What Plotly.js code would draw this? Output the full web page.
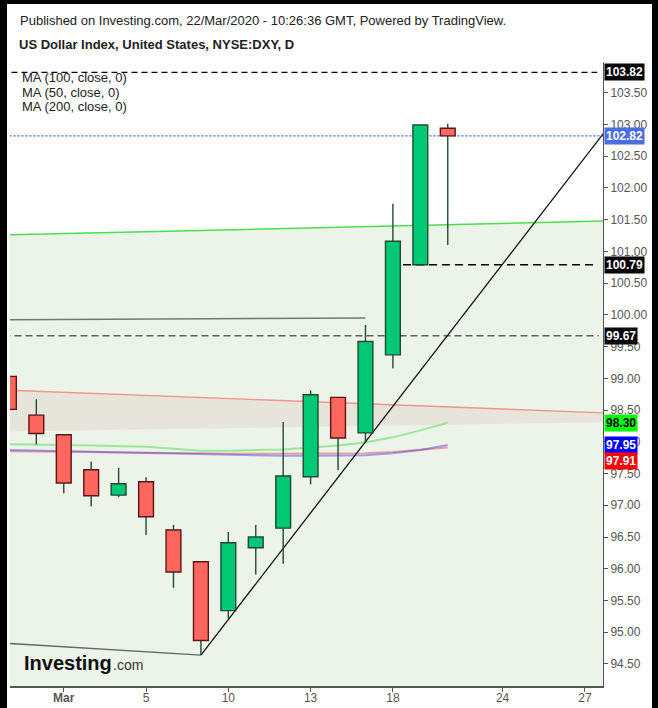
<!DOCTYPE html>
<html>
<head>
<meta charset="utf-8">
<script src="https://cdn.plot.ly/plotly-3.0.1.min.js"></script>
<style>
  html, body { margin: 0; padding: 0; background: #000; width: 658px; height: 708px; overflow: hidden; }
  #chart { position: absolute; left: 7px; top: 4px; width: 645px; height: 704px; background: #fff; }
</style>
</head>
<body>
<div id="chart"></div>
<script>
// ---------- data ----------
const dates = ["Feb 27","Feb 28","Mar 2","Mar 3","Mar 4","Mar 5","Mar 6","Mar 9","Mar 10","Mar 11","Mar 12","Mar 13","Mar 16","Mar 17","Mar 18","Mar 19","Mar 20"];
const openP  = [99.03, 98.42, 98.11, 97.56, 97.16, 97.37, 96.61, 96.11, 95.34, 96.33, 96.64, 97.45, 98.70, 98.14, 99.37, 100.79, 102.94];
const highP  = [99.10, 98.67, 98.11, 97.69, 97.59, 97.44, 96.69, 96.11, 96.58, 96.69, 98.31, 98.81, 98.70, 99.84, 101.75, 102.99, 103.01];
const lowP   = [98.45, 97.96, 97.19, 96.98, 97.13, 96.53, 95.70, 94.64, 95.22, 95.91, 96.08, 97.33, 97.55, 97.99, 99.16, 100.79, 101.10];
const closeP = [98.51, 98.13, 97.35, 97.15, 97.34, 96.82, 95.95, 94.87, 96.41, 96.50, 97.46, 98.74, 98.06, 99.58, 101.16, 102.99, 102.82];

const ma50  = [97.96, 97.96, 97.95, 97.94, 97.93, 97.92, 97.89, 97.86, 97.86, 97.87, 97.88, 97.91, 97.94, 97.99, 98.07, 98.18, 98.30];
const ma100 = [97.87, 97.86, 97.85, 97.84, 97.83, 97.82, 97.81, 97.80, 97.79, 97.78, 97.78, 97.78, 97.78, 97.79, 97.82, 97.87, 97.95];
const ma200 = [97.85, 97.85, 97.84, 97.84, 97.83, 97.83, 97.82, 97.82, 97.81, 97.81, 97.81, 97.81, 97.81, 97.82, 97.84, 97.87, 97.91];

// x tick labels (index of trading day / future day)
const tickIdx  = [2, 5, 8, 11, 14, 18, 21];
const tickText = ["<b>Mar</b>", "5", "10", "13", "18", "24", "27"];

// drawn objects (in data units: trading-day index, price)
const channelTopX = [-1, 22],  channelTopY = [101.25, 101.48];
const bandTopX    = [-1, 22],  bandTopY    = [98.83, 98.45];
const bandLowX    = [-1, 22],  bandLowY    = [98.155, 98.31];
const grayUpX     = [-1, 13],  grayUpY     = [99.92, 99.95];
const grayLowX    = [-1, 7],   grayLowY    = [94.85, 94.64];
const trendX      = [7, 22],   trendY      = [94.64, 103.04];

const levelVals  = [103.82, 102.82, 100.79, 99.67];
const levelStart = [-1, -1, 14.37, -1];
const levelEnd   = [21.45, 22, 21.45, 21.5];

const priceTags = [103.82, 102.82, 100.79, 99.67, 98.30, 97.95, 97.91];
const maNames = ["MA (100, close, 0)", "MA (50, close, 0)", "MA (200, close, 0)"];

// ---------- styles ----------
const xRange = [0.04, 21.66];
const yRange = [94.153, 103.983];
const FONT = "Liberation Sans, Arial, sans-serif";
const upFill = "#00C875", upLine = "#1F4B32";
const dnFill = "#FF665E", dnLine = "#5E1414";
const wickColor = "#1F4B32";

const idx = dates.map((d, i) => i);

// ---------- traces (main axes: background objects) ----------
const traces = [];
traces.push({x: channelTopX, y: channelTopY, mode: "lines", fill: "tozeroy",
  fillcolor: "#ECF3E9", line: {color: "#4BE04B", width: 1.5}});
traces.push({x: bandLowX, y: bandLowY, mode: "lines", line: {color: "rgba(0,0,0,0)", width: 0}});
traces.push({x: bandTopX, y: bandTopY, mode: "lines", fill: "tonexty",
  fillcolor: "#E7E5DB", line: {color: "#F0958C", width: 1.4}});
traces.push({x: grayUpX, y: grayUpY, mode: "lines", line: {color: "#737873", width: 1.5}});
traces.push({x: grayLowX, y: grayLowY, mode: "lines", line: {color: "#626862", width: 1.3}});

const levelStyles = [
  {color: "#000000", width: 1.3, dash: "6px,4px"},
  {color: "#3366FF", width: 1.2, dash: "2px,2px"},
  {color: "#000000", width: 1.6, dash: "8px,5px"},
  {color: "#5F635F", width: 1.4, dash: "7px,4px"}
];
levelVals.forEach((v, k) => {
  traces.push({x: [levelStart[k], levelEnd[k]], y: [v, v], mode: "lines", line: levelStyles[k]});
});

traces.push({x: idx, y: ma50,  mode: "lines", line: {color: "rgba(60,220,60,0.45)", width: 2}});
traces.push({x: idx, y: ma200, mode: "lines", line: {color: "rgba(240,60,60,0.45)", width: 2}});
traces.push({x: idx, y: ma100, mode: "lines", line: {color: "rgba(60,60,240,0.45)", width: 2}});

traces.push({x: trendX, y: trendY, mode: "lines", line: {color: "#111111", width: 1.3}});

// ---------- candles (overlay axes so they sit above the lines) ----------
const bodyBase = idx.map(i => Math.min(openP[i], closeP[i]));
const bodyH = idx.map(i => Math.abs(closeP[i] - openP[i]));
const isUp = idx.map(i => closeP[i] >= openP[i]);
const wx = [], wy = [];
idx.forEach(i => {
  const top = Math.max(openP[i], closeP[i]), bot = Math.min(openP[i], closeP[i]);
  if (highP[i] > top) { wx.push(i, i, null); wy.push(top, highP[i], null); }
  if (lowP[i] < bot)  { wx.push(i, i, null); wy.push(bot, lowP[i], null); }
});
traces.push({type: "bar", x: idx, y: bodyH, base: bodyBase, width: 0.54,
  xaxis: "x2", yaxis: "y2",
  marker: {color: isUp.map(u => u ? upFill : dnFill),
           line: {color: isUp.map(u => u ? upLine : dnLine), width: 1.4}}});
traces.push({x: wx, y: wy, mode: "lines", xaxis: "x2", yaxis: "y2",
  line: {color: wickColor, width: 1.4}});

traces.forEach(t => { t.hoverinfo = "skip"; t.showlegend = false; });

// ---------- annotations ----------
const plotL = 3, plotW = 593, plotB = 682, plotH = 624;
const px = v => (v - plotL) / plotW;
const py = v => (plotB - v) / plotH;

const ann = [];
ann.push({text: "Published on Investing.com, 22/Mar/2020 - 10:26:36 GMT, Powered by TradingView.",
  xref: "paper", yref: "paper", x: px(11), y: py(16), xanchor: "left", yanchor: "middle",
  showarrow: false, font: {family: FONT, size: 13, color: "#222"}});
ann.push({text: "<b>US Dollar Index, United States, NYSE:DXY, D</b>",
  xref: "paper", yref: "paper", x: px(10), y: py(40), xanchor: "left", yanchor: "middle",
  showarrow: false, font: {family: FONT, size: 13, color: "#222"}});
const maRowY = [73, 88, 103];
maNames.forEach((n, k) => ann.push({text: n, xref: "paper", yref: "paper", x: px(13), y: py(maRowY[k]),
  xanchor: "left", yanchor: "middle", showarrow: false, font: {family: FONT, size: 13, color: "#222"}}));

ann.push({text: "<b>Investing</b>", xref: "paper", yref: "paper", x: px(14.5), y: py(659),
  xanchor: "left", yanchor: "middle", showarrow: false, font: {family: FONT, size: 20, color: "#111"}});
ann.push({text: ".com", xref: "paper", yref: "paper", x: px(103.5), y: py(661),
  xanchor: "left", yanchor: "middle", showarrow: false, font: {family: FONT, size: 14, color: "#333"}});

const tagBg   = ["#000000", "#4A6EE0", "#000000", "#000000", "#00FF00", "#0000FF", "#FF0000"];
const tagFg   = ["#FFFFFF", "#FFFFFF", "#FFFFFF", "#FFFFFF", "#000000", "#FFFFFF", "#FFFFFF"];
const tagShift = [0, 0, 0, 0, 0, 0, -13.5];
priceTags.forEach((v, k) => ann.push({
  text: "<b>" + v.toFixed(2) + "</b>", xref: "paper", yref: "y", x: 1, y: v, yshift: tagShift[k], xshift: 1,
  xanchor: "left", yanchor: "middle", showarrow: false, bgcolor: tagBg[k], borderpad: 1,
  font: {family: FONT, size: 12, color: tagFg[k]}}));

// ---------- layout ----------
const axisFont = {family: FONT, size: 12, color: "#555"};
const layout = {
  width: 645, height: 704,
  margin: {l: plotL, r: 645 - plotL - plotW, t: 58, b: 704 - plotB, pad: 0},
  paper_bgcolor: "#fff", plot_bgcolor: "#fff",
  showlegend: false, hovermode: false, barmode: "overlay",
  xaxis: {range: xRange, tickvals: tickIdx, ticktext: tickText, ticks: "outside", ticklen: 4,
    ticklabelstandoff: -4,
    tickcolor: "#555", tickwidth: 1, showline: true, linecolor: "#555", linewidth: 1.5,
    showgrid: false, zeroline: false, tickfont: axisFont, fixedrange: true},
  yaxis: {range: yRange, side: "right", tick0: 94.5, dtick: 0.5, tickformat: ".2f",
    ticks: "outside", ticklen: 4, tickcolor: "#555", tickwidth: 1, showline: true,
    linecolor: "#555", linewidth: 1, showgrid: false, zeroline: false, tickfont: axisFont, fixedrange: true},
  xaxis2: {range: xRange, overlaying: "x", visible: false, fixedrange: true},
  yaxis2: {range: yRange, overlaying: "y", visible: false, fixedrange: true},
  annotations: ann
};

Plotly.newPlot("chart", traces, layout, {displayModeBar: false, staticPlot: true});
</script>
</body>
</html>
